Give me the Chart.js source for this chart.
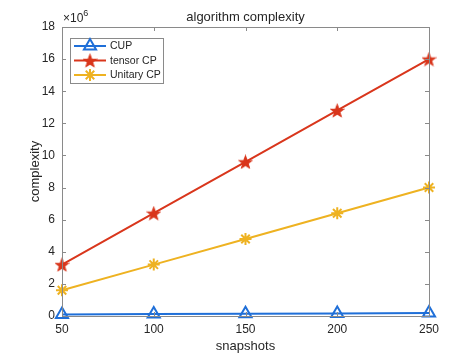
<!DOCTYPE html>
<html>
<head>
<meta charset="utf-8">
<script src="https://cdn.jsdelivr.net/npm/chart.js@4/dist/chart.umd.min.js"></script>
<style>
html,body{margin:0;padding:0;background:#fff;}
#wrap{width:474px;height:355px;position:relative;}
</style>
</head>
<body>
<div id="wrap"><canvas id="c" width="474" height="355"></canvas></div>
<script>
// ---- data (complexity values in units of 1e6) ----
const snapshots = [50, 100, 150, 200, 250];
const cupValues = [0.10, 0.12, 0.14, 0.16, 0.18];
const tensorCPValues = [3.2, 6.4, 9.6, 12.8, 16.0];
const unitaryCPValues = [1.6, 3.2, 4.8, 6.4, 8.0];
const seriesNames = ['CUP', 'tensor CP', 'Unitary CP'];
const xTicks = [50, 100, 150, 200, 250];
const yTicks = [0, 2, 4, 6, 8, 10, 12, 14, 16, 18];
const chartTitle = 'algorithm complexity';
const xLabel = 'snapshots';
const yLabel = 'complexity';
const exponentBase = '\u00d710';
const exponentPower = '6';

const FONT = '"Liberation Sans", Arial, Helvetica, sans-serif';
const BLUE = '#1f6fd8';
const RED = '#d9361c';
const YELLOW = '#eeb221';
const AXIS = '#8a8a8a';
const TEXT = '#262626';

// pentagram marker image
function makePentagram(color, size) {
  const cv = document.createElement('canvas');
  cv.width = size; cv.height = size;
  const g = cv.getContext('2d');
  const cx = size / 2, cy = size / 2 + 0.7;
  const R = size / 2 - 1, r = R * 0.42;
  g.beginPath();
  for (let i = 0; i < 10; i++) {
    const rad = (i % 2 === 0) ? R : r;
    const a = -Math.PI / 2 + i * Math.PI / 5;
    const px = cx + rad * Math.cos(a), py = cy + rad * Math.sin(a);
    if (i === 0) g.moveTo(px, py); else g.lineTo(px, py);
  }
  g.closePath();
  g.fillStyle = color;
  g.fill();
  g.lineWidth = 1.2;
  g.strokeStyle = color;
  g.stroke();
  return cv;
}
const starImg = makePentagram(RED, 15);

const toXY = (xs, ys) => xs.map((x, i) => ({x: x, y: ys[i]}));

const boxPlugin = {
  id: 'matlabBox',
  afterDraw(chart) {
    const ctx = chart.ctx;
    const a = chart.chartArea;
    const xs = chart.scales.x, ys = chart.scales.y;
    ctx.save();
    // box
    ctx.strokeStyle = AXIS;
    ctx.lineWidth = 1;
    ctx.strokeRect(Math.round(a.left) + 0.5, Math.round(a.top) + 0.5,
                   Math.round(a.right - a.left), Math.round(a.bottom - a.top));
    // inward ticks
    const tl = 4;
    ctx.beginPath();
    xTicks.forEach(v => {
      const px = Math.round(xs.getPixelForValue(v)) + 0.5;
      ctx.moveTo(px, a.bottom); ctx.lineTo(px, a.bottom - tl);
      ctx.moveTo(px, a.top); ctx.lineTo(px, a.top + tl);
    });
    yTicks.forEach(v => {
      const py = Math.round(ys.getPixelForValue(v)) + 0.5;
      ctx.moveTo(a.left, py); ctx.lineTo(a.left + tl, py);
      ctx.moveTo(a.right, py); ctx.lineTo(a.right - tl, py);
    });
    ctx.stroke();
    // title
    ctx.fillStyle = TEXT;
    ctx.font = '13px ' + FONT;
    ctx.textAlign = 'center';
    ctx.textBaseline = 'alphabetic';
    ctx.fillText(chartTitle, (a.left + a.right) / 2, a.top - 6);
    // y label
    ctx.save();
    ctx.translate(a.left - 27, (a.top + a.bottom) / 2);
    ctx.rotate(-Math.PI / 2);
    ctx.textBaseline = 'middle';
    ctx.fillText(yLabel, 0, 0);
    ctx.restore();
    // exponent
    ctx.textAlign = 'left';
    ctx.font = '12px ' + FONT;
    ctx.fillText(exponentBase, a.left + 1, a.top - 5);
    const w = ctx.measureText(exponentBase).width;
    ctx.font = '9px ' + FONT;
    ctx.fillText(exponentPower, a.left + 1 + w, a.top - 11);
    // legend
    const lx = a.left + 8, ly = a.top + 11, lw = 93, lh = 45;
    ctx.fillStyle = '#fff';
    ctx.fillRect(lx, ly, lw, lh);
    ctx.strokeStyle = AXIS;
    ctx.lineWidth = 1;
    ctx.strokeRect(lx + 0.5, ly + 0.5, lw, lh);
    ctx.font = '10.5px ' + FONT;
    ctx.textBaseline = 'middle';
    chart.data.datasets.forEach((ds, i) => {
      const y = ly + 8 + i * 14.5;
      ctx.strokeStyle = ds.borderColor;
      ctx.lineWidth = ds.borderWidth;
      ctx.beginPath();
      ctx.moveTo(lx + 4, y); ctx.lineTo(lx + 36, y);
      ctx.stroke();
      ctx.fillStyle = ds.pointBackgroundColor;
      ctx.strokeStyle = ds.pointBorderColor;
      ctx.lineWidth = ds.pointBorderWidth;
      Chart.helpers.drawPoint(ctx, {
        pointStyle: ds.pointStyle, radius: ds.pointRadius,
        borderWidth: ds.pointBorderWidth, rotation: 0
      }, lx + 20, y);
      ctx.fillStyle = TEXT;
      ctx.fillText(ds.label, lx + 40, y + 0.5);
    });
    ctx.restore();
  }
};

new Chart(document.getElementById('c'), {
  type: 'line',
  data: {
    datasets: [
      {
        label: seriesNames[0], data: toXY(snapshots, cupValues),
        borderColor: BLUE, borderWidth: 2, pointStyle: 'triangle',
        pointRadius: 7, pointBorderWidth: 2, pointBorderColor: BLUE,
        pointBackgroundColor: 'rgba(255,255,255,0)', tension: 0
      },
      {
        label: seriesNames[1], data: toXY(snapshots, tensorCPValues),
        borderColor: RED, borderWidth: 2, pointStyle: starImg,
        pointRadius: 7, pointBorderWidth: 1.5, pointBorderColor: RED,
        pointBackgroundColor: RED, tension: 0
      },
      {
        label: seriesNames[2], data: toXY(snapshots, unitaryCPValues),
        borderColor: YELLOW, borderWidth: 2, pointStyle: 'star',
        pointRadius: 6, pointBorderWidth: 2, pointBorderColor: YELLOW,
        pointBackgroundColor: YELLOW, tension: 0
      }
    ]
  },
  options: {
    responsive: false,
    animation: false,
    events: [],
    clip: false,
    layout: {padding: {left: 0, right: 45, top: 27, bottom: 0}},
    plugins: {legend: {display: false}, title: {display: false}, tooltip: {enabled: false}},
    scales: {
      x: {
        type: 'linear', min: 50, max: 250,
        afterBuildTicks(s) { s.ticks = xTicks.map(v => ({value: v})); },
        afterFit(s) { s.height = 39; },
        grid: {display: false, drawTicks: false},
        border: {display: false},
        ticks: {color: TEXT, font: {family: FONT, size: 12}, padding: 6},
        title: {display: true, text: xLabel, color: TEXT, font: {family: FONT, size: 13}, padding: {top: 0, bottom: 1}}
      },
      y: {
        type: 'linear', min: 0, max: 18,
        afterBuildTicks(s) { s.ticks = yTicks.map(v => ({value: v})); },
        afterFit(s) { s.width = 62; },
        grid: {display: false, drawTicks: false},
        border: {display: false},
        ticks: {color: TEXT, font: {family: FONT, size: 12}, padding: 7},
        title: {display: false}
      }
    }
  },
  plugins: [boxPlugin]
});
</script>
</body>
</html>
